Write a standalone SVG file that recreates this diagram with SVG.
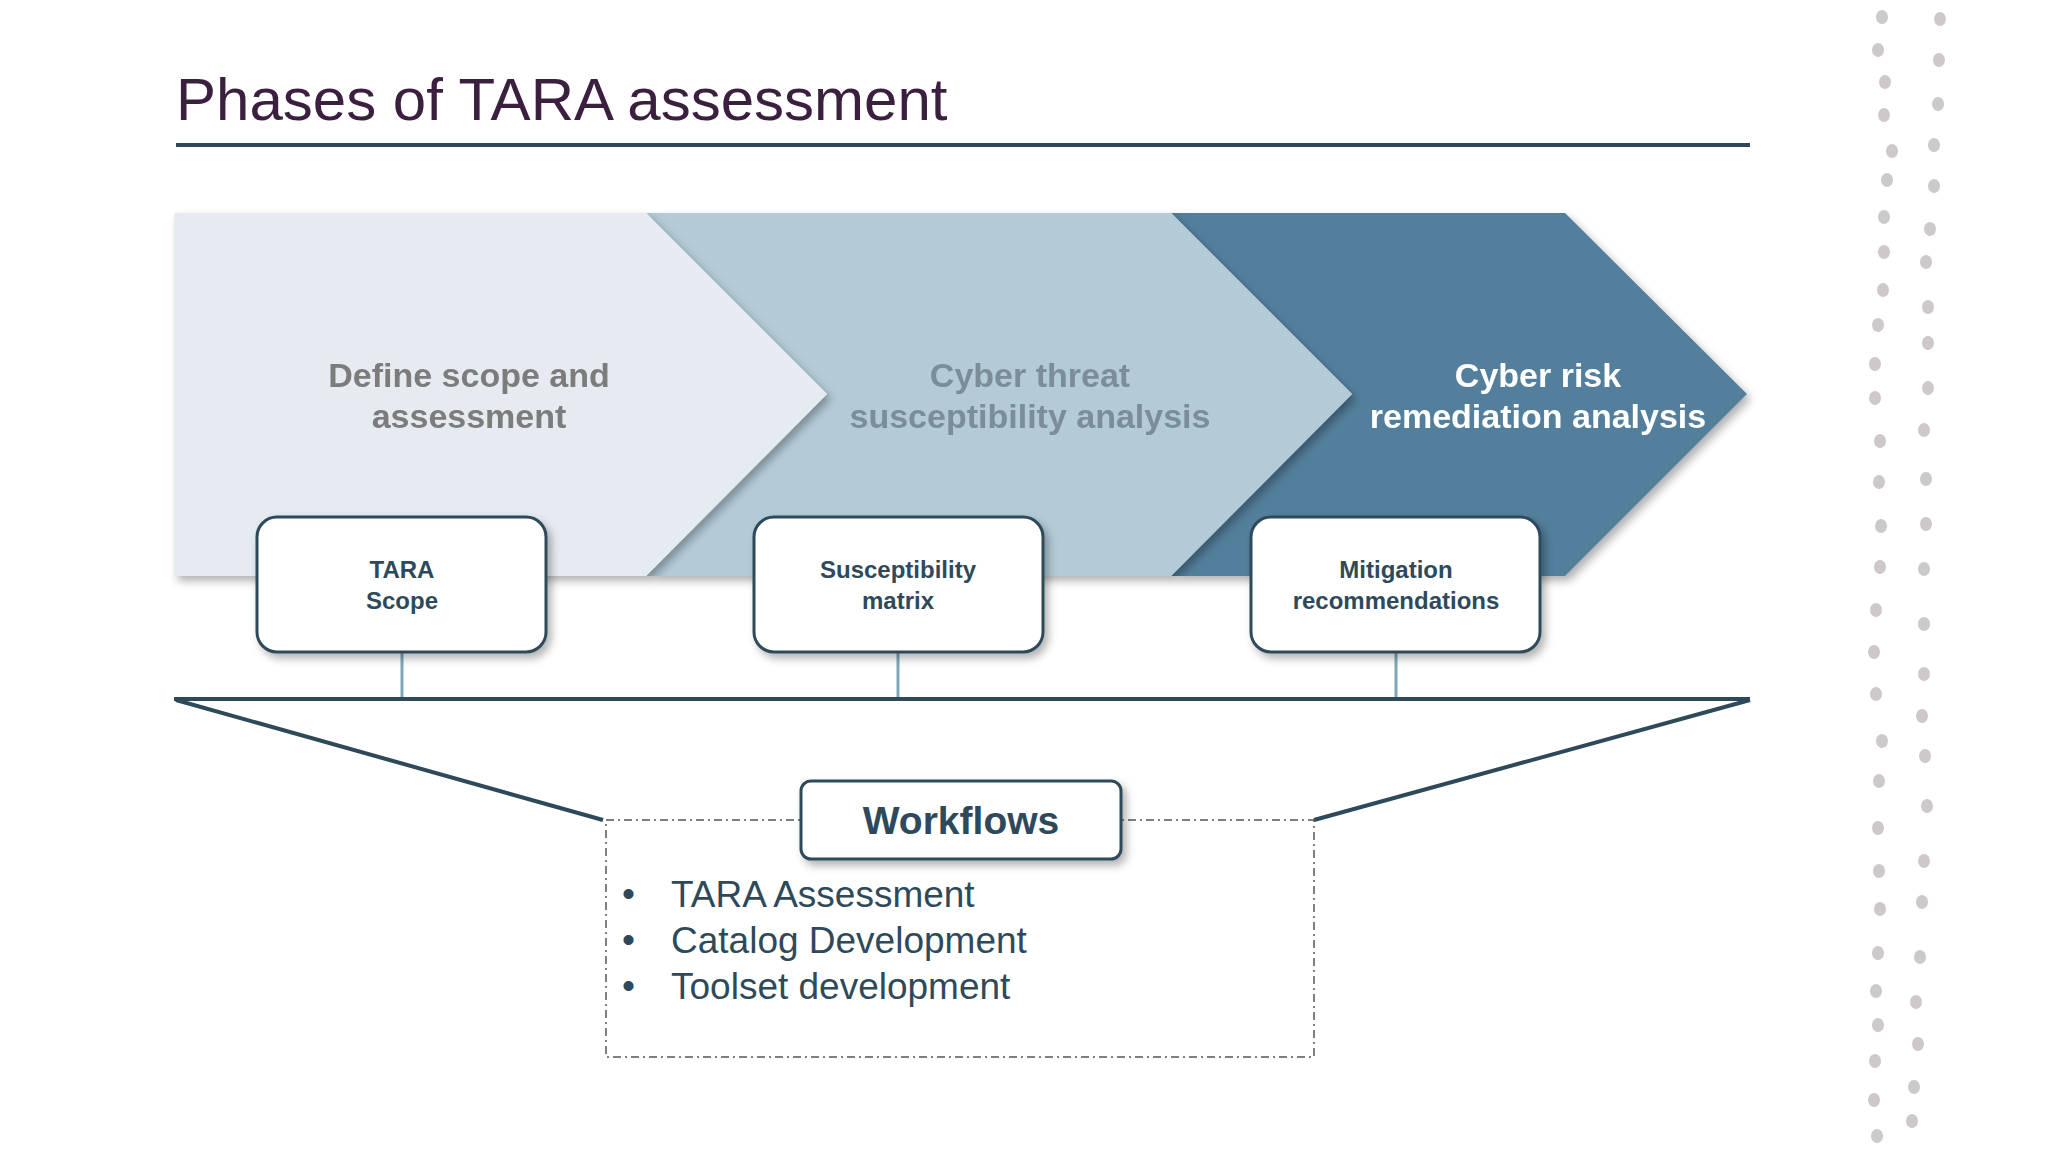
<svg xmlns="http://www.w3.org/2000/svg" width="2048" height="1152" viewBox="0 0 2048 1152">
<defs>
<style>
.ph{font-family:"Liberation Sans",Arial,sans-serif;font-weight:bold;font-size:34px;text-anchor:middle}
.bx{fill:#fff;stroke:#2e4a5a;stroke-width:3}
.bt{font-family:"Liberation Sans",Arial,sans-serif;font-weight:bold;font-size:24px;fill:#2e4a5a;text-anchor:middle}
.li{font-family:"Liberation Sans",Arial,sans-serif;font-size:37px;fill:#2e4a5a}
.dot{fill:#cdc9ca}
</style>
<filter id="sh" x="-10%" y="-10%" width="130%" height="140%"><feDropShadow dx="4" dy="5" stdDeviation="4" flood-color="#000" flood-opacity="0.3"/></filter>
</defs>
<rect width="2048" height="1152" fill="#fff"/>
<g id="decor">
<g class="dot">
<ellipse cx="1882" cy="17" rx="6" ry="7"/><ellipse cx="1878" cy="50" rx="6" ry="7"/><ellipse cx="1885" cy="82" rx="6" ry="7"/><ellipse cx="1884" cy="115" rx="6" ry="7"/><ellipse cx="1892" cy="151" rx="6" ry="7"/><ellipse cx="1887" cy="180" rx="6" ry="7"/><ellipse cx="1884" cy="217" rx="6" ry="7"/><ellipse cx="1884" cy="252" rx="6" ry="7"/><ellipse cx="1883" cy="290" rx="6" ry="7"/><ellipse cx="1878" cy="325" rx="6" ry="7"/><ellipse cx="1875" cy="364" rx="6" ry="7"/><ellipse cx="1875" cy="398" rx="6" ry="7"/><ellipse cx="1880" cy="441" rx="6" ry="7"/><ellipse cx="1879" cy="482" rx="6" ry="7"/><ellipse cx="1881" cy="526" rx="6" ry="7"/><ellipse cx="1880" cy="567" rx="6" ry="7"/><ellipse cx="1876" cy="610" rx="6" ry="7"/><ellipse cx="1874" cy="652" rx="6" ry="7"/><ellipse cx="1876" cy="694" rx="6" ry="7"/><ellipse cx="1882" cy="741" rx="6" ry="7"/><ellipse cx="1879" cy="781" rx="6" ry="7"/><ellipse cx="1878" cy="828" rx="6" ry="7"/><ellipse cx="1879" cy="871" rx="6" ry="7"/><ellipse cx="1880" cy="909" rx="6" ry="7"/><ellipse cx="1878" cy="953" rx="6" ry="7"/><ellipse cx="1876" cy="991" rx="6" ry="7"/><ellipse cx="1878" cy="1025" rx="6" ry="7"/><ellipse cx="1875" cy="1061" rx="6" ry="7"/><ellipse cx="1874" cy="1100" rx="6" ry="7"/><ellipse cx="1877" cy="1136" rx="6" ry="7"/>
<ellipse cx="1940" cy="19" rx="6" ry="7"/><ellipse cx="1939" cy="60" rx="6" ry="7"/><ellipse cx="1938" cy="104" rx="6" ry="7"/><ellipse cx="1934" cy="145" rx="6" ry="7"/><ellipse cx="1934" cy="186" rx="6" ry="7"/><ellipse cx="1930" cy="229" rx="6" ry="7"/><ellipse cx="1926" cy="262" rx="6" ry="7"/><ellipse cx="1928" cy="307" rx="6" ry="7"/><ellipse cx="1928" cy="343" rx="6" ry="7"/><ellipse cx="1928" cy="388" rx="6" ry="7"/><ellipse cx="1924" cy="430" rx="6" ry="7"/><ellipse cx="1926" cy="479" rx="6" ry="7"/><ellipse cx="1926" cy="524" rx="6" ry="7"/><ellipse cx="1924" cy="569" rx="6" ry="7"/><ellipse cx="1924" cy="624" rx="6" ry="7"/><ellipse cx="1924" cy="674" rx="6" ry="7"/><ellipse cx="1922" cy="716" rx="6" ry="7"/><ellipse cx="1925" cy="756" rx="6" ry="7"/><ellipse cx="1927" cy="806" rx="6" ry="7"/><ellipse cx="1924" cy="861" rx="6" ry="7"/><ellipse cx="1922" cy="902" rx="6" ry="7"/><ellipse cx="1920" cy="957" rx="6" ry="7"/><ellipse cx="1916" cy="1002" rx="6" ry="7"/><ellipse cx="1918" cy="1044" rx="6" ry="7"/><ellipse cx="1914" cy="1087" rx="6" ry="7"/><ellipse cx="1912" cy="1121" rx="6" ry="7"/>
</g>
</g>
<g id="title">
<text x="176" y="120" font-family="'Liberation Sans',Arial,sans-serif" font-size="60" fill="#3b1f3f">Phases of TARA assessment</text>
<line x1="176" y1="145" x2="1750" y2="145" stroke="#2e4a5a" stroke-width="4"/>
</g>
<g id="phase3" filter="url(#sh)">
<polygon points="1171,213 1565,213 1747,394 1565,576 1171,576 1352,394" fill="#527f9c"/>
<text class="ph" x="1538" y="387" fill="#fff">Cyber risk</text>
<text class="ph" x="1538" y="428" fill="#fff">remediation analysis</text>
</g>
<g id="phase2" filter="url(#sh)">
<polygon points="646,213 1171,213 1352,394 1171,576 646,576 827,394" fill="#b3cbd7"/>
<text class="ph" x="1030" y="387" fill="#7a8d98">Cyber threat</text>
<text class="ph" x="1030" y="428" fill="#7a8d98">susceptibility analysis</text>
</g>
<g id="phase1" filter="url(#sh)">
<polygon points="174,213 646,213 827,394 646,576 174,576" fill="#e6ebf1"/>
<text class="ph" x="469" y="387" fill="#7b7b7b">Define scope and</text>
<text class="ph" x="469" y="428" fill="#7b7b7b">assessment</text>
</g>
<g id="connectors" stroke-width="3">
<line x1="402" y1="652" x2="402" y2="698" stroke="#7ea7bb"/>
<line x1="898" y1="652" x2="898" y2="698" stroke="#7ea7bb"/>
<line x1="1396" y1="652" x2="1396" y2="698" stroke="#7ea7bb"/>
<line x1="174" y1="699" x2="1750" y2="699" stroke="#2e4a5a" stroke-width="4"/>
<line x1="176" y1="700" x2="603" y2="820" stroke="#2e4a5a" stroke-width="4"/>
<line x1="1750" y1="700" x2="1314" y2="820" stroke="#2e4a5a" stroke-width="4"/>
<rect x="606" y="820" width="708" height="237" fill="none" stroke="#555" stroke-width="1.5" stroke-dasharray="8,4,2,4"/>
</g>
<g id="box1"><rect class="bx" x="257" y="517" width="289" height="135" rx="20" filter="url(#sh)"/><text class="bt" x="402" y="578">TARA</text><text class="bt" x="402" y="609">Scope</text></g>
<g id="box2"><rect class="bx" x="754" y="517" width="289" height="135" rx="20" filter="url(#sh)"/><text class="bt" x="898" y="578">Susceptibility</text><text class="bt" x="898" y="609">matrix</text></g>
<g id="box3"><rect class="bx" x="1251" y="517" width="289" height="135" rx="20" filter="url(#sh)"/><text class="bt" x="1396" y="578">Mitigation</text><text class="bt" x="1396" y="609">recommendations</text></g>
<g id="workflows">
<rect class="bx" x="801" y="781" width="320" height="78" rx="10" filter="url(#sh)"/>
<text x="961" y="834" text-anchor="middle" font-family="'Liberation Sans',Arial,sans-serif" font-weight="bold" font-size="39" fill="#2e4a5a">Workflows</text>
<text class="li" x="622" y="906">•</text><text class="li" x="671" y="907">TARA Assessment</text>
<text class="li" x="622" y="952">•</text><text class="li" x="671" y="953">Catalog Development</text>
<text class="li" x="622" y="998">•</text><text class="li" x="671" y="999">Toolset development</text>
</g>
</svg>
